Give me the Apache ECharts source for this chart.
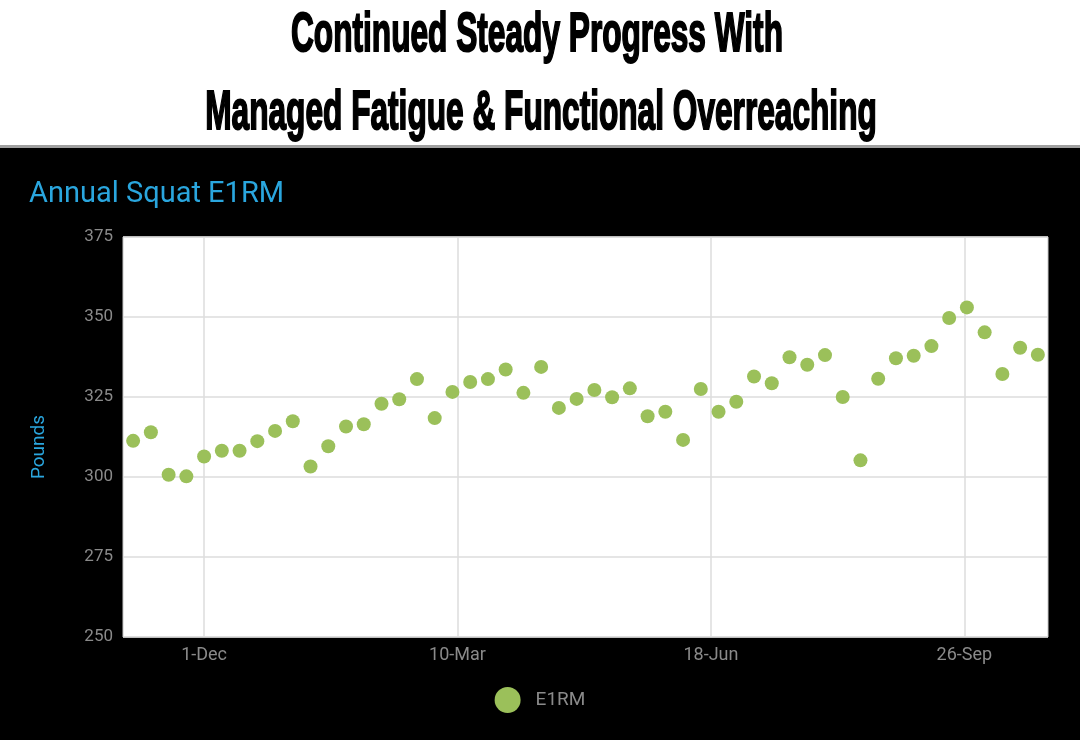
<!DOCTYPE html>
<html><head><meta charset="utf-8">
<script src="https://cdn.jsdelivr.net/npm/echarts@6/dist/echarts.min.js"></script>
<style>html,body{margin:0;padding:0;background:#000}#c{width:1080px;height:740px}</style>
</head><body><div id="c"></div>
<script>
const headline = ['Continued Steady Progress With', 'Managed Fatigue & Functional Overreaching'];
const chartTitle = 'Annual Squat E1RM';
const yAxisName = 'Pounds';
const seriesName = 'E1RM';
const dates = ['2019-11-03','2019-11-10','2019-11-17','2019-11-24','2019-12-01','2019-12-08','2019-12-15','2019-12-22','2019-12-29',
  '2020-01-05','2020-01-12','2020-01-19','2020-01-26','2020-02-02','2020-02-09','2020-02-16','2020-02-23',
  '2020-03-01','2020-03-08','2020-03-15','2020-03-22','2020-03-29','2020-04-05','2020-04-12','2020-04-19','2020-04-26',
  '2020-05-03','2020-05-10','2020-05-17','2020-05-24','2020-05-31','2020-06-07','2020-06-14','2020-06-21','2020-06-28',
  '2020-07-05','2020-07-12','2020-07-19','2020-07-26','2020-08-02','2020-08-09','2020-08-16','2020-08-23','2020-08-30',
  '2020-09-06','2020-09-13','2020-09-20','2020-09-27','2020-10-04','2020-10-11','2020-10-18','2020-10-25'];
const e1rm = [311.3,314.0,300.7,300.2,306.4,308.2,308.2,311.2,314.4,317.4,
  303.3,309.6,315.8,316.5,322.9,324.3,330.6,318.4,326.6,329.7,
  330.6,333.6,326.3,334.4,321.6,324.4,327.2,324.9,327.7,319.0,
  320.4,311.6,327.5,320.4,323.5,331.4,329.3,337.4,335.1,338.1,
  325.0,305.2,330.7,337.1,337.9,340.9,349.7,353.0,345.2,332.2,
  340.4,338.2];
const xTickDates = ['2019-12-01','2020-03-10','2020-06-18','2020-09-26'];
const xRange = ['2019-10-30','2020-10-29'];
const yRange = [250, 375];
const yStep = 25;

const DAY = 86400000;
const origin = Date.UTC(2019, 11, 1);
const MONTHS = ['Jan','Feb','Mar','Apr','May','Jun','Jul','Aug','Sep','Oct','Nov','Dec'];
function toDay(s){ const p = s.split('-').map(Number); return Math.round((Date.UTC(p[0], p[1]-1, p[2]) - origin)/DAY); }
function fmtDay(d){ const dt = new Date(origin + d*DAY); return dt.getUTCDate() + '-' + MONTHS[dt.getUTCMonth()]; }

const points = dates.map((d,i)=>[toDay(d), e1rm[i]]);
const tickDays = xTickDates.map(toDay);

const chart = echarts.init(document.getElementById('c'), null, {renderer:'canvas'});
chart.setOption({
  backgroundColor: '#000',
  animation: false,
  graphic: [
    {type:'rect', shape:{x:0,y:0,width:1080,height:145}, style:{fill:'#fff'}, silent:true},
    {type:'rect', shape:{x:0,y:145,width:1080,height:3}, style:{fill:'#a0a0a0'}, silent:true},
    {type:'text', x:537, y:36, scaleX:0.565, style:{text:headline[0], font:'bold 56px "Liberation Sans"', fill:'#000', stroke:'#000', lineWidth:2, textAlign:'center', textVerticalAlign:'middle'}},
    {type:'text', x:541, y:114, scaleX:0.565, style:{text:headline[1], font:'bold 56px "Liberation Sans"', fill:'#000', stroke:'#000', lineWidth:2, textAlign:'center', textVerticalAlign:'middle'}}
  ],
  title: {
    text: chartTitle, left: 24, top: 175,
    textStyle: {color:'#2aa6de', fontFamily:'Roboto', fontSize:29, fontWeight:'normal'}
  },
  legend: {
    top: 682, left: 'center',
    icon: 'circle', itemWidth: 26, itemHeight: 26,
    textStyle: {color:'#8a8a8a', fontFamily:'Roboto', fontSize:19, padding:[0,0,0,10]},
    data: [seriesName]
  },
  grid: {
    left: 123, right: 32, top: 237, bottom: 103,
    show: true, backgroundColor: '#fff', borderColor: '#c8c8c8', borderWidth: 1
  },
  xAxis: {
    type: 'value', min: toDay(xRange[0]), max: toDay(xRange[1]),
    axisLine: {show:false}, axisTick: {show:false, customValues: tickDays},
    axisLabel: {customValues: tickDays, formatter: v => fmtDay(v), color:'#8a8a8a', fontFamily:'Roboto', fontSize:18, margin:9},
    splitLine: {show:true, lineStyle:{color:'#dcdcdc', width:1.5}}
  },
  yAxis: {
    type: 'value', min: yRange[0], max: yRange[1], interval: yStep,
    name: yAxisName, nameLocation: 'middle', nameGap: 74,
    nameTextStyle: {color:'#2aa6de', fontFamily:'Roboto', fontSize:19, padding:[0,20,0,0]},
    axisLine: {show:false}, axisTick: {show:false},
    axisLabel: {color:'#8a8a8a', fontFamily:'Roboto', fontSize:17, margin:10},
    splitLine: {show:true, lineStyle:{color:'#dcdcdc', width:1.5}}
  },
  series: [{
    name: seriesName, type: 'scatter', symbol: 'circle', symbolSize: 14,
    itemStyle: {color:'#9bc05a', opacity:1},
    data: points
  }]
});
</script>
</body></html>
